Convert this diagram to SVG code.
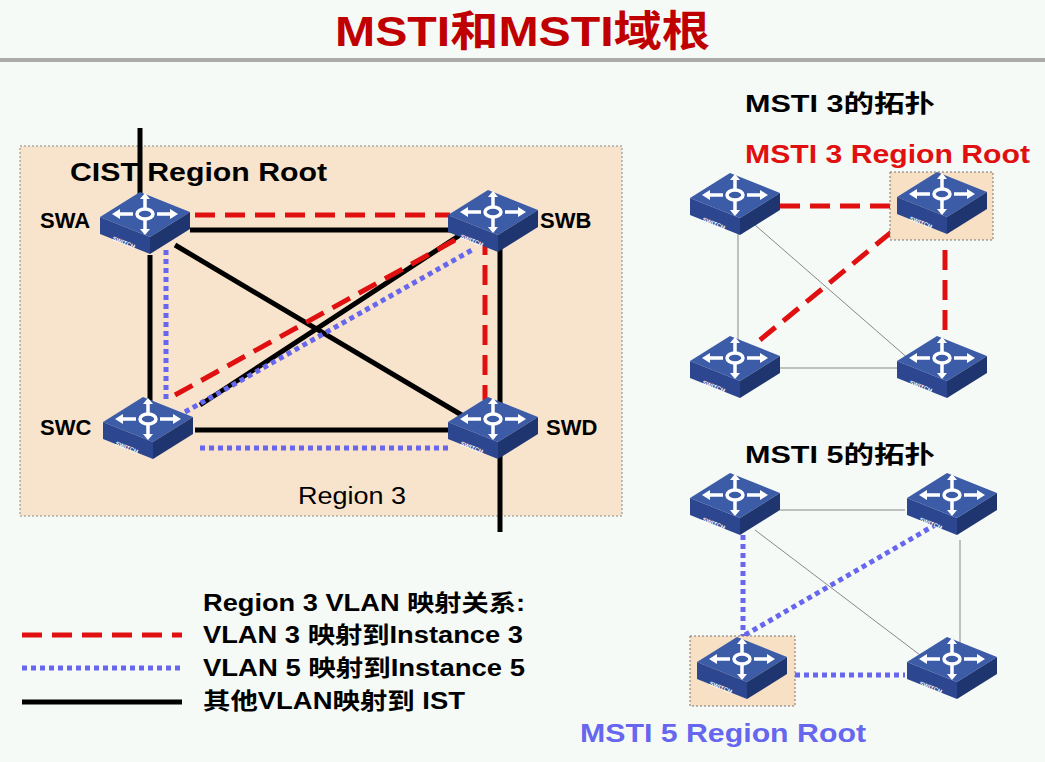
<svg xmlns="http://www.w3.org/2000/svg" xmlns:xlink="http://www.w3.org/1999/xlink" width="1045" height="762" viewBox="0 0 1045 762">
<style>
text{font-family:"Liberation Sans","Noto Sans CJK SC",sans-serif;font-weight:bold}
.blk{stroke:#000;stroke-width:5;fill:none}
.red{stroke:#e01010;stroke-width:5;stroke-dasharray:20 10;fill:none}
.blu{stroke:#6666ee;stroke-width:5;stroke-dasharray:5 4;fill:none}
.gry{stroke:#888;stroke-width:1;fill:none}
.hl{fill:#f8e0c4;stroke:#777;stroke-dasharray:2 2}
</style>
<defs>
<g id="sw">
<polygon points="0,25 40,0 90,20 50,45" fill="#3d5ca8"/>
<polygon points="0,25 50,45 50,62 0,42" fill="#2c4790"/>
<polygon points="50,45 90,20 90,37 50,62" fill="#1f3570"/>
<g fill="none" stroke="#fff" stroke-width="3.5">
<ellipse cx="45" cy="22" rx="8" ry="5"/>
<path d="M33,22H16M57,22H74M45,16V4M45,28V40"/>
</g>
<g fill="#fff">
<polygon points="12,22 20,17 20,27"/><polygon points="78,22 70,17 70,27"/>
<polygon points="45,1 40,7 50,7"/><polygon points="45,43 40,37 50,37"/>
</g>
<text x="12" y="48" font-size="6" fill="#fff" transform="rotate(22 12 48)">SWITCH</text>
</g>
</defs>
<rect width="1045" height="762" fill="#f6faf6"/>
<text x="335" y="46" font-size="42" fill="#c00000" textLength="375" lengthAdjust="spacingAndGlyphs">MSTI和MSTI域根</text>
<rect x="0" y="58" width="1045" height="4" fill="#aaa"/>
<rect x="20" y="146" width="602" height="370" fill="#f8e4cc" stroke="#888" stroke-dasharray="2 2"/>
<g id="connectors">
<path class="blk" d="M140,128V195M190,230H452M175,245L470,420M500,235V420M150,255V410M200,405L460,235M195,430H455M500,450V532"/>
<path class="red" d="M195,215H450M485,235V400M175,395L455,240"/>
<path class="blu" d="M166,250V400M200,448H450M185,412L472,250"/>
<path class="gry" d="M738,220V345M755,225L910,360M780,368H900M780,510H905M960,540V645M755,530L920,655"/>
<path class="red" d="M780,206H895M945,250V330M760,340L900,225"/>
<path class="blu" d="M743,535V640M745,635L935,525M795,675H905"/>
<path class="blk" d="M22,702H182"/>
<path class="red" d="M22,635H182"/>
<path class="blu" d="M22,668H182"/>
</g>
<rect class="hl" x="890" y="172" width="103" height="68"/>
<rect class="hl" x="690" y="636" width="105" height="70"/>
<g id="SWA"><use xlink:href="#sw" x="100" y="192"/><text x="40" y="228" font-size="22">SWA</text><text x="70" y="181" font-size="25" textLength="257" lengthAdjust="spacingAndGlyphs">CIST Region Root</text></g>
<g id="SWB"><use xlink:href="#sw" x="448" y="190"/><text x="540" y="228" font-size="22">SWB</text></g>
<g id="SWC"><use xlink:href="#sw" x="103" y="397"/><text x="40" y="435" font-size="22">SWC</text></g>
<g id="SWD"><use xlink:href="#sw" x="448" y="397"/><text x="546" y="435" font-size="22">SWD</text></g>
<text x="298" y="504" font-size="23" style="font-weight:normal" textLength="108" lengthAdjust="spacingAndGlyphs">Region 3</text>
<text x="745" y="112" font-size="24" textLength="190" lengthAdjust="spacingAndGlyphs">MSTI 3的拓扑</text>
<text x="745" y="163" font-size="25" fill="#e01010" textLength="285" lengthAdjust="spacingAndGlyphs">MSTI 3 Region Root</text>
<g id="m3a"><use xlink:href="#sw" x="690" y="173"/></g>
<g id="m3b"><use xlink:href="#sw" x="897" y="172"/></g>
<g id="m3c"><use xlink:href="#sw" x="690" y="336"/></g>
<g id="m3d"><use xlink:href="#sw" x="897" y="336"/></g>
<text x="745" y="463" font-size="24" textLength="190" lengthAdjust="spacingAndGlyphs">MSTI 5的拓扑</text>
<g id="m5a"><use xlink:href="#sw" x="690" y="473"/></g>
<g id="m5b"><use xlink:href="#sw" x="907" y="473"/></g>
<g id="m5c"><use xlink:href="#sw" x="697" y="637"/></g>
<g id="m5d"><use xlink:href="#sw" x="907" y="637"/></g>
<text x="580" y="742" font-size="25" fill="#6666ee" textLength="286" lengthAdjust="spacingAndGlyphs">MSTI 5 Region Root</text>
<g font-size="23"><text x="203" y="611" textLength="322" lengthAdjust="spacingAndGlyphs">Region 3 VLAN 映射关系:</text>
<text x="203" y="643" textLength="320" lengthAdjust="spacingAndGlyphs">VLAN 3 映射到Instance 3</text>
<text x="203" y="676" textLength="322" lengthAdjust="spacingAndGlyphs">VLAN 5 映射到Instance 5</text>
<text x="203" y="709" textLength="262" lengthAdjust="spacingAndGlyphs">其他VLAN映射到 IST</text></g>
</svg>
